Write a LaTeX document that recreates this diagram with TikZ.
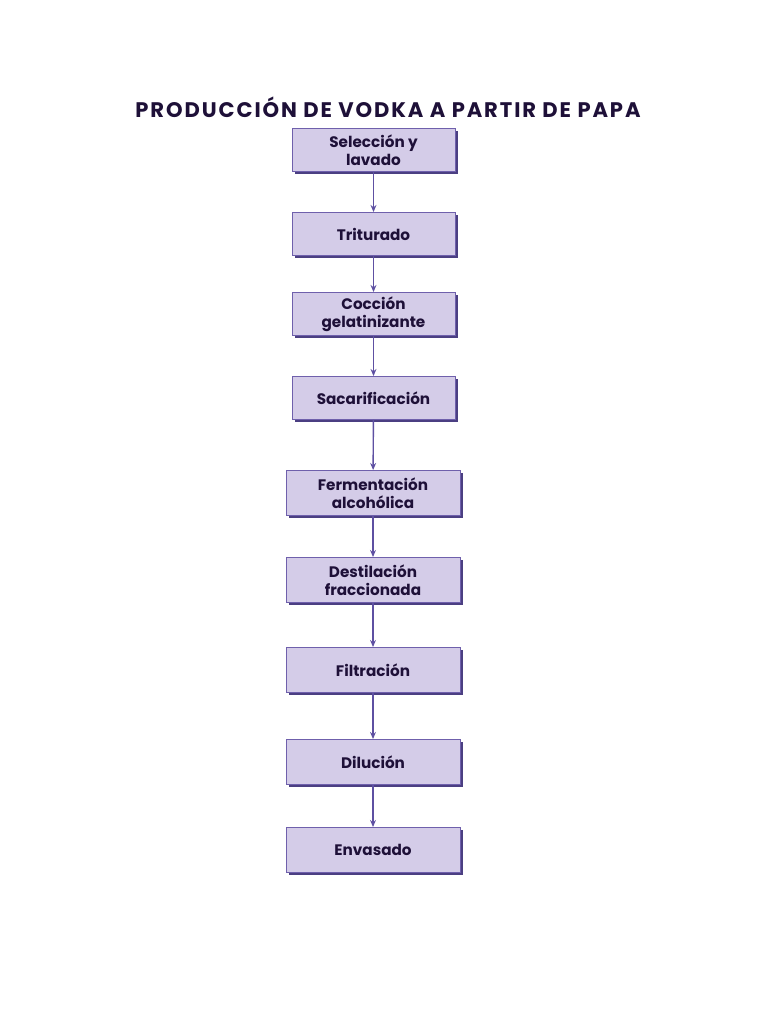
\documentclass[tikz,border=0pt]{standalone}
\usepackage{fontspec}
\setmainfont{Poppins}
\newfontfamily\titlefont[LetterSpace=9]{Poppins}
\usetikzlibrary{arrows.meta,shadows}

\definecolor{boxfill}{HTML}{D4CCE8}
\definecolor{boxline}{HTML}{6F60AC}
\definecolor{boxshade}{HTML}{4B3F82}
\definecolor{ink}{HTML}{1E1038}
\definecolor{flowline}{HTML}{5E50A2}

\begin{document}
\begin{tikzpicture}[
  x=0.03cm, y=-0.03cm,
  >={Stealth[length=6pt,width=5pt]},
  step box/.style ={draw=boxline,fill=boxfill,line width=0.8pt,
                    minimum width=4.89cm,minimum height=1.29cm,
                    align=center,text=ink,inner sep=2pt,
                    font=\fontsize{13}{15}\selectfont\bfseries,
                    drop shadow={shadow xshift=2.2pt,shadow yshift=-2.2pt,
                                 fill=boxshade,opacity=1}},
  wide box/.style ={step box,minimum width=5.22cm,minimum height=1.35cm},
  flow/.style     ={->,draw=flowline,line width=1.2pt},
]

%% ============================================================
%%  Page and title
%% ============================================================
\useasboundingbox[fill=white] (0,0) rectangle (768,1024);
\node[text=ink,font=\titlefont\fontsize{18}{20}\selectfont\bfseries]
      (title) at (388,107) {PRODUCCIÓN DE VODKA A PARTIR DE PAPA};

%% ============================================================
%%  Process steps
%% ============================================================
\node[step box] (seleccion)     at (373.5,150) {Selección y\\lavado};
\node[step box] (triturado)     at (373.5,234) {Triturado};
\node[step box] (coccion)       at (373.5,314) {Cocción\\gelatinizante};
\node[step box] (sacarif)       at (373.5,398) {Sacarificación};
\node[wide box] (fermentacion)  at (373,493)   {Fermentación\\alcohólica};
\node[wide box] (destilacion)   at (373,580)   {Destilación\\fraccionada};
\node[wide box] (filtracion)    at (373,670)   {Filtración};
\node[wide box] (dilucion)      at (373,762)   {Dilución};
\node[wide box] (envasado)      at (373,850)   {Envasado};

%% ============================================================
%%  Connectors
%% ============================================================
\draw[flow] (seleccion)    -- (triturado);
\draw[flow] (triturado)    -- (coccion);
\draw[flow] (coccion)      -- (sacarif);
\draw[flow] (sacarif)      -- (fermentacion);
\draw[flow] (fermentacion) -- (destilacion);
\draw[flow] (destilacion)  -- (filtracion);
\draw[flow] (filtracion)   -- (dilucion);
\draw[flow] (dilucion)     -- (envasado);

\end{tikzpicture}
\end{document}
